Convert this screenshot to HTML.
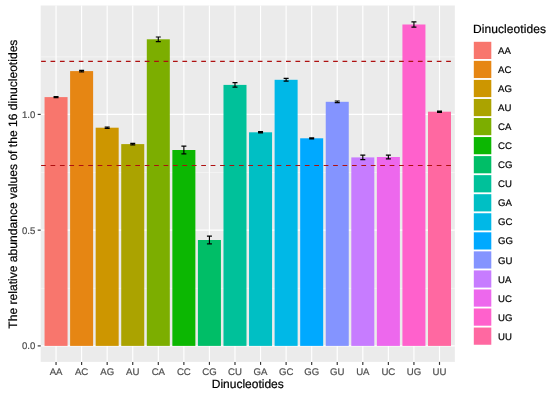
<!DOCTYPE html><html><head><meta charset="utf-8"><title>Dinucleotides</title><style>html,body{margin:0;padding:0;background:#fff}svg{display:block}text{font-family:"Liberation Sans",sans-serif;text-rendering:geometricPrecision;stroke-width:0.2px;paint-order:stroke}</style></head><body>
<svg width="550" height="394" viewBox="0 0 550 394">
<rect width="550" height="394" fill="#fff"/>
<rect x="40.7" y="5.5" width="414.15" height="356.40" fill="#EBEBEB"/>
<line x1="40.7" x2="454.85" y1="288.32" y2="288.32" stroke="#fff" stroke-width="0.58" stroke-opacity="0.8"/>
<line x1="40.7" x2="454.85" y1="172.57" y2="172.57" stroke="#fff" stroke-width="0.58" stroke-opacity="0.8"/>
<line x1="40.7" x2="454.85" y1="56.82" y2="56.82" stroke="#fff" stroke-width="0.58" stroke-opacity="0.8"/>
<line x1="40.7" x2="454.85" y1="345.90" y2="345.90" stroke="#fff" stroke-width="1.16"/>
<line x1="40.7" x2="454.85" y1="230.15" y2="230.15" stroke="#fff" stroke-width="1.16"/>
<line x1="40.7" x2="454.85" y1="114.40" y2="114.40" stroke="#fff" stroke-width="1.16"/>
<line x1="56.05" x2="56.05" y1="5.5" y2="361.9" stroke="#fff" stroke-width="1.16"/>
<line x1="81.61" x2="81.61" y1="5.5" y2="361.9" stroke="#fff" stroke-width="1.16"/>
<line x1="107.18" x2="107.18" y1="5.5" y2="361.9" stroke="#fff" stroke-width="1.16"/>
<line x1="132.74" x2="132.74" y1="5.5" y2="361.9" stroke="#fff" stroke-width="1.16"/>
<line x1="158.30" x2="158.30" y1="5.5" y2="361.9" stroke="#fff" stroke-width="1.16"/>
<line x1="183.87" x2="183.87" y1="5.5" y2="361.9" stroke="#fff" stroke-width="1.16"/>
<line x1="209.43" x2="209.43" y1="5.5" y2="361.9" stroke="#fff" stroke-width="1.16"/>
<line x1="234.99" x2="234.99" y1="5.5" y2="361.9" stroke="#fff" stroke-width="1.16"/>
<line x1="260.55" x2="260.55" y1="5.5" y2="361.9" stroke="#fff" stroke-width="1.16"/>
<line x1="286.12" x2="286.12" y1="5.5" y2="361.9" stroke="#fff" stroke-width="1.16"/>
<line x1="311.68" x2="311.68" y1="5.5" y2="361.9" stroke="#fff" stroke-width="1.16"/>
<line x1="337.24" x2="337.24" y1="5.5" y2="361.9" stroke="#fff" stroke-width="1.16"/>
<line x1="362.81" x2="362.81" y1="5.5" y2="361.9" stroke="#fff" stroke-width="1.16"/>
<line x1="388.37" x2="388.37" y1="5.5" y2="361.9" stroke="#fff" stroke-width="1.16"/>
<line x1="413.93" x2="413.93" y1="5.5" y2="361.9" stroke="#fff" stroke-width="1.16"/>
<line x1="439.50" x2="439.50" y1="5.5" y2="361.9" stroke="#fff" stroke-width="1.16"/>
<rect x="44.55" y="97.10" width="23.01" height="248.80" fill="#F8766D"/>
<rect x="70.11" y="71.10" width="23.01" height="274.80" fill="#E68613"/>
<rect x="95.67" y="127.70" width="23.01" height="218.20" fill="#CD9600"/>
<rect x="121.24" y="144.10" width="23.01" height="201.80" fill="#ABA300"/>
<rect x="146.80" y="39.30" width="23.01" height="306.60" fill="#7CAE00"/>
<rect x="172.36" y="150.00" width="23.01" height="195.90" fill="#0CB702"/>
<rect x="197.92" y="240.00" width="23.01" height="105.90" fill="#00BE67"/>
<rect x="223.49" y="84.90" width="23.01" height="261.00" fill="#00C19A"/>
<rect x="249.05" y="132.30" width="23.01" height="213.60" fill="#00BFC4"/>
<rect x="274.61" y="79.80" width="23.01" height="266.10" fill="#00B8E7"/>
<rect x="300.18" y="138.30" width="23.01" height="207.60" fill="#00A9FF"/>
<rect x="325.74" y="101.80" width="23.01" height="244.10" fill="#8494FF"/>
<rect x="351.30" y="157.40" width="23.01" height="188.50" fill="#C77CFF"/>
<rect x="376.87" y="157.00" width="23.01" height="188.90" fill="#ED68ED"/>
<rect x="402.43" y="24.50" width="23.01" height="321.40" fill="#FF61CC"/>
<rect x="427.99" y="111.70" width="23.01" height="234.20" fill="#FF68A1"/>
<path d="M53.55 96.50H58.55M56.05 96.50V97.70M53.55 97.70H58.55" stroke="#000" stroke-width="1.16" fill="none"/>
<path d="M79.11 70.40H84.11M81.61 70.40V71.80M79.11 71.80H84.11" stroke="#000" stroke-width="1.16" fill="none"/>
<path d="M104.68 127.00H109.68M107.18 127.00V128.40M104.68 128.40H109.68" stroke="#000" stroke-width="1.16" fill="none"/>
<path d="M130.24 143.30H135.24M132.74 143.30V144.90M130.24 144.90H135.24" stroke="#000" stroke-width="1.16" fill="none"/>
<path d="M155.80 37.00H160.80M158.30 37.00V41.60M155.80 41.60H160.80" stroke="#000" stroke-width="1.16" fill="none"/>
<path d="M181.37 146.20H186.37M183.87 146.20V153.80M181.37 153.80H186.37" stroke="#000" stroke-width="1.16" fill="none"/>
<path d="M206.93 236.20H211.93M209.43 236.20V243.80M206.93 243.80H211.93" stroke="#000" stroke-width="1.16" fill="none"/>
<path d="M232.49 82.60H237.49M234.99 82.60V87.20M232.49 87.20H237.49" stroke="#000" stroke-width="1.16" fill="none"/>
<path d="M258.05 131.70H263.05M260.55 131.70V132.90M258.05 132.90H263.05" stroke="#000" stroke-width="1.16" fill="none"/>
<path d="M283.62 78.40H288.62M286.12 78.40V81.20M283.62 81.20H288.62" stroke="#000" stroke-width="1.16" fill="none"/>
<path d="M309.18 137.80H314.18M311.68 137.80V138.80M309.18 138.80H314.18" stroke="#000" stroke-width="1.16" fill="none"/>
<path d="M334.74 101.00H339.74M337.24 101.00V102.60M334.74 102.60H339.74" stroke="#000" stroke-width="1.16" fill="none"/>
<path d="M360.31 155.10H365.31M362.81 155.10V159.70M360.31 159.70H365.31" stroke="#000" stroke-width="1.16" fill="none"/>
<path d="M385.87 155.15H390.87M388.37 155.15V158.85M385.87 158.85H390.87" stroke="#000" stroke-width="1.16" fill="none"/>
<path d="M411.43 21.90H416.43M413.93 21.90V27.10M411.43 27.10H416.43" stroke="#000" stroke-width="1.16" fill="none"/>
<path d="M437.00 111.10H442.00M439.50 111.10V112.30M437.00 112.30H442.00" stroke="#000" stroke-width="1.16" fill="none"/>
<line x1="41.1" x2="454.85" y1="61.30" y2="61.30" stroke="#AE1010" stroke-width="1.16" stroke-dasharray="4.71 4.71"/>
<line x1="41.1" x2="454.85" y1="165.48" y2="165.48" stroke="#AE1010" stroke-width="1.16" stroke-dasharray="4.71 4.71"/>
<line x1="37.70" x2="40.7" y1="345.90" y2="345.90" stroke="#333" stroke-width="1.16"/>
<text x="35.3" y="349.35" font-size="9.6" fill="#4D4D4D" stroke="#4D4D4D" text-anchor="end">0.0</text>
<line x1="37.70" x2="40.7" y1="230.15" y2="230.15" stroke="#333" stroke-width="1.16"/>
<text x="35.3" y="233.60" font-size="9.6" fill="#4D4D4D" stroke="#4D4D4D" text-anchor="end">0.5</text>
<line x1="37.70" x2="40.7" y1="114.40" y2="114.40" stroke="#333" stroke-width="1.16"/>
<text x="35.3" y="117.85" font-size="9.6" fill="#4D4D4D" stroke="#4D4D4D" text-anchor="end">1.0</text>
<line x1="56.05" x2="56.05" y1="361.9" y2="364.90" stroke="#333" stroke-width="1.16"/>
<text x="56.05" y="374.5" font-size="9.6" fill="#4D4D4D" stroke="#4D4D4D" text-anchor="middle">AA</text>
<line x1="81.61" x2="81.61" y1="361.9" y2="364.90" stroke="#333" stroke-width="1.16"/>
<text x="81.61" y="374.5" font-size="9.6" fill="#4D4D4D" stroke="#4D4D4D" text-anchor="middle">AC</text>
<line x1="107.18" x2="107.18" y1="361.9" y2="364.90" stroke="#333" stroke-width="1.16"/>
<text x="107.18" y="374.5" font-size="9.6" fill="#4D4D4D" stroke="#4D4D4D" text-anchor="middle">AG</text>
<line x1="132.74" x2="132.74" y1="361.9" y2="364.90" stroke="#333" stroke-width="1.16"/>
<text x="132.74" y="374.5" font-size="9.6" fill="#4D4D4D" stroke="#4D4D4D" text-anchor="middle">AU</text>
<line x1="158.30" x2="158.30" y1="361.9" y2="364.90" stroke="#333" stroke-width="1.16"/>
<text x="158.30" y="374.5" font-size="9.6" fill="#4D4D4D" stroke="#4D4D4D" text-anchor="middle">CA</text>
<line x1="183.87" x2="183.87" y1="361.9" y2="364.90" stroke="#333" stroke-width="1.16"/>
<text x="183.87" y="374.5" font-size="9.6" fill="#4D4D4D" stroke="#4D4D4D" text-anchor="middle">CC</text>
<line x1="209.43" x2="209.43" y1="361.9" y2="364.90" stroke="#333" stroke-width="1.16"/>
<text x="209.43" y="374.5" font-size="9.6" fill="#4D4D4D" stroke="#4D4D4D" text-anchor="middle">CG</text>
<line x1="234.99" x2="234.99" y1="361.9" y2="364.90" stroke="#333" stroke-width="1.16"/>
<text x="234.99" y="374.5" font-size="9.6" fill="#4D4D4D" stroke="#4D4D4D" text-anchor="middle">CU</text>
<line x1="260.55" x2="260.55" y1="361.9" y2="364.90" stroke="#333" stroke-width="1.16"/>
<text x="260.55" y="374.5" font-size="9.6" fill="#4D4D4D" stroke="#4D4D4D" text-anchor="middle">GA</text>
<line x1="286.12" x2="286.12" y1="361.9" y2="364.90" stroke="#333" stroke-width="1.16"/>
<text x="286.12" y="374.5" font-size="9.6" fill="#4D4D4D" stroke="#4D4D4D" text-anchor="middle">GC</text>
<line x1="311.68" x2="311.68" y1="361.9" y2="364.90" stroke="#333" stroke-width="1.16"/>
<text x="311.68" y="374.5" font-size="9.6" fill="#4D4D4D" stroke="#4D4D4D" text-anchor="middle">GG</text>
<line x1="337.24" x2="337.24" y1="361.9" y2="364.90" stroke="#333" stroke-width="1.16"/>
<text x="337.24" y="374.5" font-size="9.6" fill="#4D4D4D" stroke="#4D4D4D" text-anchor="middle">GU</text>
<line x1="362.81" x2="362.81" y1="361.9" y2="364.90" stroke="#333" stroke-width="1.16"/>
<text x="362.81" y="374.5" font-size="9.6" fill="#4D4D4D" stroke="#4D4D4D" text-anchor="middle">UA</text>
<line x1="388.37" x2="388.37" y1="361.9" y2="364.90" stroke="#333" stroke-width="1.16"/>
<text x="388.37" y="374.5" font-size="9.6" fill="#4D4D4D" stroke="#4D4D4D" text-anchor="middle">UC</text>
<line x1="413.93" x2="413.93" y1="361.9" y2="364.90" stroke="#333" stroke-width="1.16"/>
<text x="413.93" y="374.5" font-size="9.6" fill="#4D4D4D" stroke="#4D4D4D" text-anchor="middle">UG</text>
<line x1="439.50" x2="439.50" y1="361.9" y2="364.90" stroke="#333" stroke-width="1.16"/>
<text x="439.50" y="374.5" font-size="9.6" fill="#4D4D4D" stroke="#4D4D4D" text-anchor="middle">UU</text>
<text x="247.78" y="388.2" font-size="12" fill="#000" stroke="#000" text-anchor="middle">Dinucleotides</text>
<text transform="translate(17,184.15) rotate(-90)" font-size="12.1" fill="#000" stroke="#000" text-anchor="middle">The relative abundance values of the 16 dinucleotides</text>
<text x="473" y="32.6" font-size="12" fill="#000" stroke="#000" letter-spacing="0.07">Dinucleotides</text>
<rect x="473.8" y="41.80" width="17.5" height="17.2" fill="#F8766D"/>
<text x="498.1" y="53.98" font-size="9.6" fill="#000" stroke="#000">AA</text>
<rect x="473.8" y="60.85" width="17.5" height="17.2" fill="#E68613"/>
<text x="498.1" y="73.03" font-size="9.6" fill="#000" stroke="#000">AC</text>
<rect x="473.8" y="79.90" width="17.5" height="17.2" fill="#CD9600"/>
<text x="498.1" y="92.08" font-size="9.6" fill="#000" stroke="#000">AG</text>
<rect x="473.8" y="98.95" width="17.5" height="17.2" fill="#ABA300"/>
<text x="498.1" y="111.13" font-size="9.6" fill="#000" stroke="#000">AU</text>
<rect x="473.8" y="118.00" width="17.5" height="17.2" fill="#7CAE00"/>
<text x="498.1" y="130.18" font-size="9.6" fill="#000" stroke="#000">CA</text>
<rect x="473.8" y="137.05" width="17.5" height="17.2" fill="#0CB702"/>
<text x="498.1" y="149.22" font-size="9.6" fill="#000" stroke="#000">CC</text>
<rect x="473.8" y="156.10" width="17.5" height="17.2" fill="#00BE67"/>
<text x="498.1" y="168.28" font-size="9.6" fill="#000" stroke="#000">CG</text>
<rect x="473.8" y="175.15" width="17.5" height="17.2" fill="#00C19A"/>
<text x="498.1" y="187.33" font-size="9.6" fill="#000" stroke="#000">CU</text>
<rect x="473.8" y="194.20" width="17.5" height="17.2" fill="#00BFC4"/>
<text x="498.1" y="206.38" font-size="9.6" fill="#000" stroke="#000">GA</text>
<rect x="473.8" y="213.25" width="17.5" height="17.2" fill="#00B8E7"/>
<text x="498.1" y="225.43" font-size="9.6" fill="#000" stroke="#000">GC</text>
<rect x="473.8" y="232.30" width="17.5" height="17.2" fill="#00A9FF"/>
<text x="498.1" y="244.47" font-size="9.6" fill="#000" stroke="#000">GG</text>
<rect x="473.8" y="251.35" width="17.5" height="17.2" fill="#8494FF"/>
<text x="498.1" y="263.52" font-size="9.6" fill="#000" stroke="#000">GU</text>
<rect x="473.8" y="270.40" width="17.5" height="17.2" fill="#C77CFF"/>
<text x="498.1" y="282.57" font-size="9.6" fill="#000" stroke="#000">UA</text>
<rect x="473.8" y="289.45" width="17.5" height="17.2" fill="#ED68ED"/>
<text x="498.1" y="301.62" font-size="9.6" fill="#000" stroke="#000">UC</text>
<rect x="473.8" y="308.50" width="17.5" height="17.2" fill="#FF61CC"/>
<text x="498.1" y="320.67" font-size="9.6" fill="#000" stroke="#000">UG</text>
<rect x="473.8" y="327.55" width="17.5" height="17.2" fill="#FF68A1"/>
<text x="498.1" y="339.72" font-size="9.6" fill="#000" stroke="#000">UU</text>
</svg></body></html>
